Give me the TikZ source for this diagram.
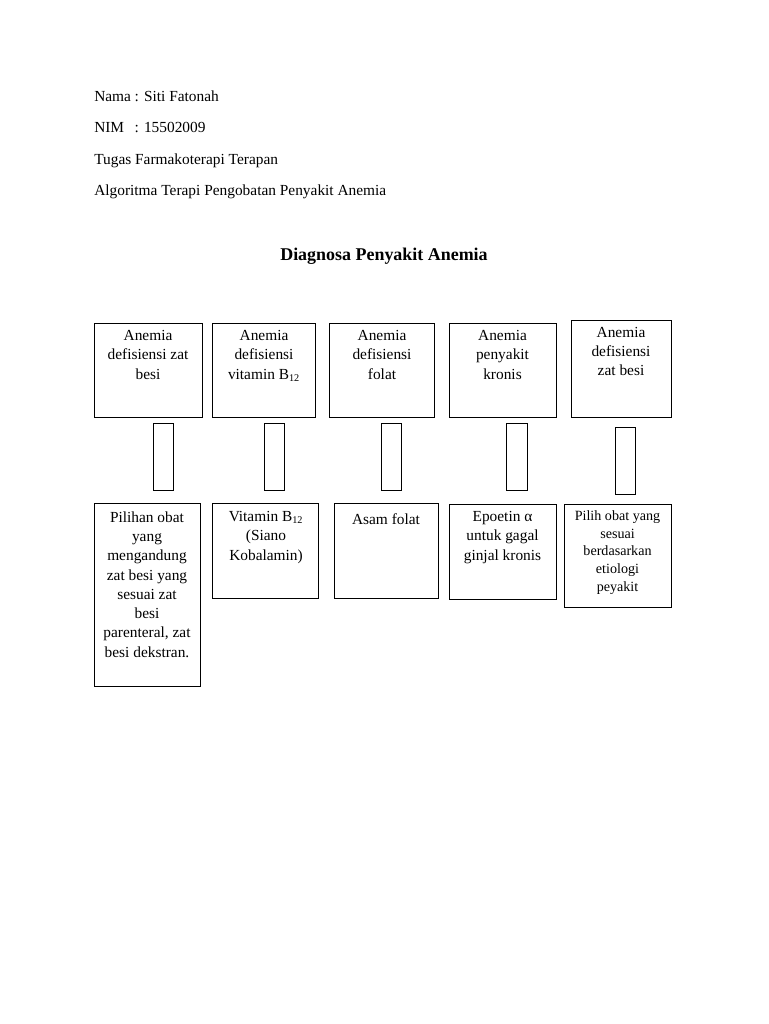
\documentclass[tikz,border=0pt]{standalone}
\usepackage{fontspec}
\setmainfont{Liberation Serif}
\begin{document}
\begin{tikzpicture}[x=0.78pt,y=-0.78pt,
  box/.style={draw, line width=0.8pt, inner sep=0pt, anchor=north west},
  txt/.style={inner sep=0pt, anchor=north, align=center, font=\fontsize{12}{15.2}\selectfont, execute at begin node=\strut},
  smalltxt/.style={txt, font=\fontsize{11}{13.8}\selectfont},
  hdr/.style={inner sep=0pt, anchor=base west, font=\fontsize{12}{14.4}\selectfont},
  ttl/.style={inner sep=0pt, anchor=base, font=\bfseries\fontsize{14}{16.8}\selectfont}]
\useasboundingbox (0,0) rectangle (768,1024);
% header
\node[hdr] (h1) at (94,101.7) {\makebox[31.5pt][l]{Nama}: Siti Fatonah};
\node[hdr] (h2) at (94,133) {\makebox[31.5pt][l]{NIM}: 15502009};
\node[hdr] (h3) at (94,164.5) {Tugas Farmakoterapi Terapan};
\node[hdr] (h4) at (94,196) {Algoritma Terapi Pengobatan Penyakit Anemia};
\node[ttl] (title) at (384,261) {Diagnosa Penyakit Anemia};
% top boxes
\node[box, minimum width=108*0.78pt, minimum height=94*0.78pt] (b1) at (94,323) {};
\node[box, minimum width=103*0.78pt, minimum height=94*0.78pt] (b2) at (212,323) {};
\node[box, minimum width=105*0.78pt, minimum height=94*0.78pt] (b3) at (329,323) {};
\node[box, minimum width=107*0.78pt, minimum height=94*0.78pt] (b4) at (449,323) {};
\node[box, minimum width=100*0.78pt, minimum height=97*0.78pt] (b5) at (571,320) {};
\node[txt] (tb1) at (148,329.7) {Anemia\\defisiensi zat\\besi};
\node[txt] (tb2) at (264,329.7) {Anemia\\defisiensi\\vitamin B\textsubscript{12}};
\node[txt] (tb3) at (382,329.7) {Anemia\\defisiensi\\folat};
\node[txt] (tb4) at (502.5,329.7) {Anemia\\penyakit\\kronis};
\node[txt, font=\fontsize{12}{14.8}\selectfont] (tb5) at (621,327.1) {Anemia\\defisiensi\\zat besi};
% middle bars
\node[box, minimum width=20*0.78pt, minimum height=67*0.78pt] (r1) at (153,423) {};
\node[box, minimum width=20*0.78pt, minimum height=67*0.78pt] (r2) at (264,423) {};
\node[box, minimum width=20*0.78pt, minimum height=67*0.78pt] (r3) at (381,423) {};
\node[box, minimum width=21*0.78pt, minimum height=67*0.78pt] (r4) at (506,423) {};
\node[box, minimum width=20*0.78pt, minimum height=67*0.78pt] (r5) at (615,427) {};
% bottom boxes
\node[box, minimum width=106*0.78pt, minimum height=183*0.78pt] (c1) at (94,503) {};
\node[box, minimum width=106*0.78pt, minimum height=95*0.78pt] (c2) at (212,503) {};
\node[box, minimum width=104*0.78pt, minimum height=95*0.78pt] (c3) at (334,503) {};
\node[box, minimum width=107*0.78pt, minimum height=95*0.78pt] (c4) at (449,504) {};
\node[box, minimum width=107*0.78pt, minimum height=103*0.78pt] (c5) at (564,504) {};
\node[txt, font=\fontsize{12}{15.0}\selectfont] (tc1) at (147,511.5) {Pilihan obat\\yang\\mengandung\\zat besi yang\\sesuai zat\\besi\\parenteral, zat\\besi dekstran.};
\node[txt] (tc2) at (266,511) {Vitamin B\textsubscript{12}\\(Siano\\Kobalamin)};
\node[txt] (tc3) at (386,511) {Asam folat};
\node[txt] (tc4) at (502.5,511) {Epoetin α\\untuk gagal\\ginjal kronis};
\node[smalltxt] (tc5) at (617.5,510.5) {Pilih obat yang\\sesuai\\berdasarkan\\etiologi\\peyakit};
\end{tikzpicture}
\end{document}
